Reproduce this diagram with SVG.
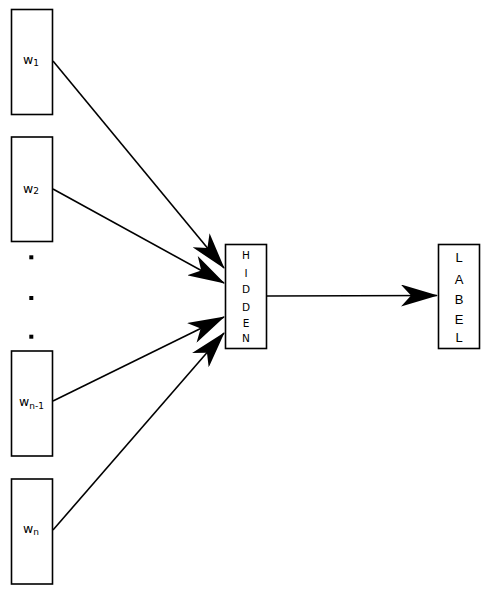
<svg xmlns="http://www.w3.org/2000/svg" width="489" height="591" viewBox="0 0 489 591">
<style>
.box{fill:#fff;stroke:#000;stroke-width:1.6}
.w{font-family:"DejaVu Sans",Verdana,sans-serif;font-size:12.5px;fill:#000}
.sub{font-size:9px}
.h{font-family:"DejaVu Sans",Verdana,sans-serif;font-size:10.5px;fill:#000;text-anchor:middle}
.l{font-family:"Liberation Sans",Arial,sans-serif;font-size:13px;fill:#000;text-anchor:middle}
.edge{fill:none;stroke:#000;stroke-width:1.6;marker-end:url(#arr)}
</style>
<defs>
<marker id="arr" markerUnits="userSpaceOnUse" viewBox="0 0 37 22" refX="36" refY="11" markerWidth="37" markerHeight="22" orient="auto">
<path d="M37,11 L0,0 L10,11 L0,22 Z" fill="#000"/>
</marker>
</defs>
<rect width="489" height="591" fill="#fff"/>
<g id="connectors">
<line class="edge" x1="53" y1="61" x2="224" y2="268"/>
<line class="edge" x1="53" y1="189" x2="224" y2="283"/>
<line class="edge" x1="53" y1="401" x2="224" y2="317"/>
<line class="edge" x1="53" y1="530" x2="224" y2="333"/>
<line class="edge" x1="267" y1="296" x2="437" y2="295.5"/>
</g>
<g id="w1">
<rect class="box" x="11.5" y="9.5" width="41" height="105"/>
<text class="w" x="31" y="64" text-anchor="middle">w<tspan class="sub" dy="1.5">1</tspan></text>
</g>
<g id="w2">
<rect class="box" x="11.5" y="137" width="41" height="104.5"/>
<text class="w" x="31" y="192.5" text-anchor="middle">w<tspan class="sub" dy="1.5">2</tspan></text>
</g>
<g id="dots">
<rect x="29.3" y="255.3" width="4" height="4" fill="#000"/>
<rect x="29.3" y="296" width="4" height="4" fill="#000"/>
<rect x="29.3" y="334.7" width="4" height="4" fill="#000"/>
</g>
<g id="wn-1">
<rect class="box" x="11.5" y="351" width="41" height="105"/>
<text class="w" x="31.5" y="405.5" text-anchor="middle">w<tspan class="sub" dy="3">n-1</tspan></text>
</g>
<g id="wn">
<rect class="box" x="11.5" y="479" width="41" height="105"/>
<text class="w" x="31" y="533.3" text-anchor="middle">w<tspan class="sub" dy="2">n</tspan></text>
</g>
<g id="hidden">
<rect class="box" x="225.5" y="244.5" width="41" height="104"/>
<text class="h" x="246" y="258.9">H</text>
<text class="h" x="246" y="276.9">I</text>
<text class="h" x="246" y="292.9">D</text>
<text class="h" x="246" y="310.9">D</text>
<text class="h" x="246" y="326.9">E</text>
<text class="h" x="246" y="341.9">N</text>
</g>
<g id="label">
<rect class="box" x="438.5" y="244.5" width="41" height="104"/>
<text class="l" x="459" y="262.4">L</text>
<text class="l" x="459" y="284">A</text>
<text class="l" x="459" y="304">B</text>
<text class="l" x="459" y="324">E</text>
<text class="l" x="459" y="342.4">L</text>
</g>
</svg>
